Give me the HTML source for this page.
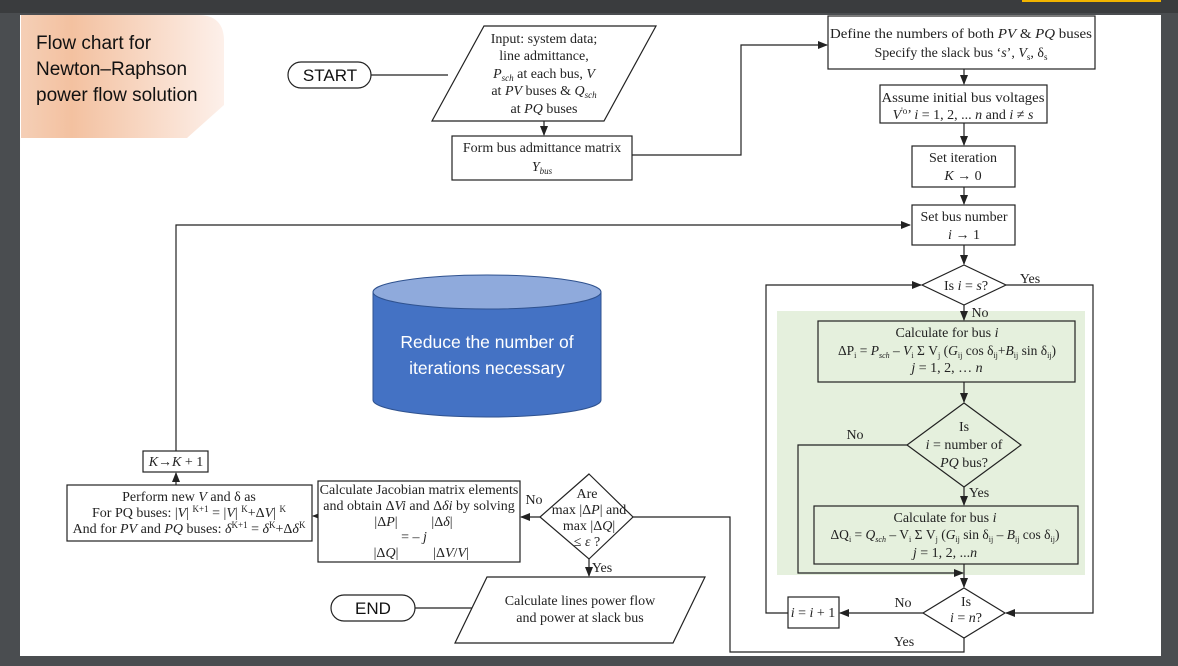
<!DOCTYPE html>
<html><head><meta charset="utf-8"><style>
html,body{margin:0;padding:0;width:1178px;height:666px;overflow:hidden;background:#4a4d50}
svg{display:block}
.t{font-family:"Liberation Serif",serif;font-size:14px;fill:#222}
.s{font-family:"Liberation Sans",sans-serif}
</style></head><body>
<svg width="1178" height="666" viewBox="0 0 1178 666" xmlns="http://www.w3.org/2000/svg">
<defs>
<linearGradient id="g" x1="0" x2="1" y1="0" y2="0">
<stop offset="0" stop-color="#f5cfb6"/><stop offset="0.25" stop-color="#f3c1a0"/><stop offset="1" stop-color="#fdf0ea"/></linearGradient>
<marker id="a" markerWidth="10" markerHeight="8" refX="9" refY="4" orient="auto" markerUnits="userSpaceOnUse"><path d="M0,0 L10,4 L0,8 z" fill="#222"/></marker>
</defs>
<rect x="0" y="0" width="1178" height="666" fill="#4a4d50"/>
<rect x="0" y="0" width="1178" height="13" fill="#3a3c3e"/>
<rect x="1022" y="0" width="139" height="2" fill="#f2b400"/>
<rect x="20" y="15" width="1141" height="641" fill="#fff"/>
<path d="M21,15 H198 Q224,15 224,41 V105 L187,138 H21 Z" fill="url(#g)"/>
<g class="s" font-size="19" fill="#111">
<text x="36" y="49">Flow chart for</text>
<text x="36" y="75">Newton–Raphson</text>
<text x="36" y="101">power flow solution</text>
</g>
<path d="M373,292 V400 A114,17 0 0 0 601,400 V292 Z" fill="#4472c4" stroke="#2f528f" stroke-width="1"/>
<ellipse cx="487" cy="292" rx="114" ry="17" fill="#8faadc" stroke="#2f528f" stroke-width="1"/>
<g class="s" font-size="17.5" fill="#fff" text-anchor="middle">
<text x="487" y="348">Reduce the number of</text>
<text x="487" y="374">iterations necessary</text>
</g>
<rect x="777" y="311" width="308" height="264" fill="#e5f0dd"/>
<g stroke="#222" stroke-width="1.2" fill="none">
<rect x="288" y="62" width="83" height="26" rx="13" fill="#fff"/>
<line x1="371" y1="75" x2="448" y2="75"/>
<path d="M484,26 H656 L604,121 H432 Z" fill="#fff"/>
<line x1="544" y1="121" x2="544" y2="135" marker-end="url(#a)"/>
<rect x="452" y="136" width="180" height="44" fill="#fff"/>
<path d="M632,155 H741 V45 H827" marker-end="url(#a)"/>
<rect x="828" y="16" width="267" height="53" fill="#fff"/>
<line x1="964" y1="69" x2="964" y2="84" marker-end="url(#a)"/>
<rect x="880" y="85" width="167" height="38" fill="#fff"/>
<line x1="964" y1="123" x2="964" y2="145" marker-end="url(#a)"/>
<rect x="912" y="146" width="103" height="41" fill="#fff"/>
<line x1="964" y1="187" x2="964" y2="204" marker-end="url(#a)"/>
<rect x="912" y="205" width="103" height="40" fill="#fff"/>
<line x1="964" y1="245" x2="964" y2="264" marker-end="url(#a)"/>
<path d="M964,265 L1006,285 L964,305 L922,285 Z" fill="#fff"/>
<path d="M1006,285 H1093 V613 H1006" marker-end="url(#a)"/>
<path d="M788,613 H766 V285 H921" marker-end="url(#a)"/>
<line x1="964" y1="305" x2="964" y2="320" marker-end="url(#a)"/>
<rect x="818" y="321" width="257" height="61"/>
<line x1="964" y1="382" x2="964" y2="402" marker-end="url(#a)"/>
<path d="M964,403 L1021,445 L964,487 L907,445 Z"/>
<path d="M907,445 H798 V573 H963" marker-end="url(#a)"/>
<line x1="964" y1="487" x2="964" y2="505" marker-end="url(#a)"/>
<rect x="814" y="506" width="264" height="58"/>
<line x1="964" y1="564" x2="964" y2="587" marker-end="url(#a)"/>
<path d="M964,588 L1005,613 L964,638 L923,613 Z" fill="#fff"/>
<line x1="923" y1="613" x2="840" y2="613" marker-end="url(#a)"/>
<rect x="788" y="597" width="51" height="31" fill="#fff"/>
<path d="M964,638 V652 H730 V517 H633"/>
<path d="M176,452 V225 H910" marker-end="url(#a)"/>
<rect x="143" y="451" width="65" height="21" fill="#fff"/>
<line x1="176" y1="485" x2="176" y2="473" marker-end="url(#a)"/>
<rect x="67" y="485" width="245" height="56" fill="#fff"/>
<line x1="318" y1="516" x2="313" y2="516" marker-end="url(#a)"/>
<rect x="318" y="481" width="202" height="81" fill="#fff"/>
<line x1="540" y1="517" x2="521" y2="517" marker-end="url(#a)"/>
<path d="M589,474 L633,517 L589,559 L540,517 Z" fill="#fff"/>
<line x1="589" y1="559" x2="589" y2="576" marker-end="url(#a)"/>
<path d="M487,577 H705 L673,643 H455 Z" fill="#fff"/>
<line x1="415" y1="608" x2="472" y2="608"/>
<rect x="331" y="595" width="84" height="26" rx="13" fill="#fff"/>
</g>
<g class="s" font-size="17" fill="#111" text-anchor="middle">
<text x="330" y="81">START</text>
<text x="373" y="614">END</text>
</g>
<g class="t" text-anchor="middle">
<text x="544" y="43">Input: system data;</text>
<text x="544" y="60">line admittance,</text>
<text x="544" y="78"><tspan font-style="italic">P</tspan><tspan font-size="9" font-style="italic" dy="3">sch</tspan><tspan dy="-3"> at each bus, </tspan><tspan font-style="italic">V</tspan></text>
<text x="544" y="95">at <tspan font-style="italic">PV</tspan> buses &amp; <tspan font-style="italic">Q</tspan><tspan font-size="9" font-style="italic" dy="3">sch</tspan></text>
<text x="544" y="113">at <tspan font-style="italic">PQ</tspan> buses</text>
<text x="542" y="152">Form bus admittance matrix</text>
<text x="542" y="171" font-style="italic">Y<tspan font-size="9" dy="3">bus</tspan></text>
<text x="961" y="38" textLength="262" lengthAdjust="spacingAndGlyphs">Define the numbers of both <tspan font-style="italic">PV</tspan> &amp; <tspan font-style="italic">PQ</tspan> buses</text>
<text x="961" y="57">Specify the slack bus ‘<tspan font-style="italic">s</tspan>’, <tspan font-style="italic">V</tspan><tspan font-size="9" dy="3">s</tspan><tspan dy="-3">, δ</tspan><tspan font-size="9" dy="3">s</tspan></text>
<text x="963" y="102" textLength="163" lengthAdjust="spacingAndGlyphs">Assume initial bus voltages</text>
<text x="963" y="119"><tspan font-style="italic">V</tspan><tspan font-size="9" dy="-5">'o</tspan><tspan dy="5">’ </tspan><tspan font-style="italic">i</tspan> = 1, 2, ... <tspan font-style="italic">n</tspan> and <tspan font-style="italic">i</tspan> ≠ <tspan font-style="italic">s</tspan></text>
<text x="963" y="162">Set iteration</text>
<text x="963" y="180"><tspan font-style="italic">K</tspan> → 0</text>
<text x="964" y="221">Set bus number</text>
<text x="964" y="239"><tspan font-style="italic">i</tspan>  → 1</text>
<text x="966" y="290">Is <tspan font-style="italic">i</tspan> = <tspan font-style="italic">s</tspan>?</text>
<text x="1030" y="283">Yes</text>
<text x="980" y="317">No</text>
<text x="947" y="337">Calculate for bus <tspan font-style="italic">i</tspan></text>
<text x="947" y="355" font-size="13.5">ΔP<tspan font-size="8" dy="3">i</tspan><tspan dy="-3"> = </tspan><tspan font-style="italic">P</tspan><tspan font-size="8" font-style="italic" dy="3">sch</tspan><tspan dy="-3"> – </tspan><tspan font-style="italic">V</tspan><tspan font-size="8" dy="3">i</tspan><tspan dy="-3"> Σ V</tspan><tspan font-size="8" dy="3">j</tspan><tspan dy="-3"> (</tspan><tspan font-style="italic">G</tspan><tspan font-size="8" dy="3">ij</tspan><tspan dy="-3"> cos δ</tspan><tspan font-size="8" dy="3">ij</tspan><tspan dy="-3">+</tspan><tspan font-style="italic">B</tspan><tspan font-size="8" dy="3">ij</tspan><tspan dy="-3"> sin δ</tspan><tspan font-size="8" dy="3">ij</tspan><tspan dy="-3">)</tspan></text>
<text x="947" y="372"><tspan font-style="italic">j</tspan> = 1, 2, … <tspan font-style="italic">n</tspan></text>
<text x="964" y="431">Is</text>
<text x="964" y="449"><tspan font-style="italic">i</tspan> = number of</text>
<text x="964" y="467"><tspan font-style="italic">PQ</tspan> bus?</text>
<text x="855" y="439">No</text>
<text x="979" y="497">Yes</text>
<text x="945" y="522">Calculate for bus <tspan font-style="italic">i</tspan></text>
<text x="945" y="539" font-size="13.5">ΔQ<tspan font-size="8" dy="3">i</tspan><tspan dy="-3"> = </tspan><tspan font-style="italic">Q</tspan><tspan font-size="8" font-style="italic" dy="3">sch</tspan><tspan dy="-3"> – V</tspan><tspan font-size="8" dy="3">i</tspan><tspan dy="-3"> Σ V</tspan><tspan font-size="8" dy="3">j</tspan><tspan dy="-3"> (</tspan><tspan font-style="italic">G</tspan><tspan font-size="8" dy="3">ij</tspan><tspan dy="-3"> sin δ</tspan><tspan font-size="8" dy="3">ij</tspan><tspan dy="-3"> – </tspan><tspan font-style="italic">B</tspan><tspan font-size="8" dy="3">ij</tspan><tspan dy="-3"> cos δ</tspan><tspan font-size="8" dy="3">ij</tspan><tspan dy="-3">)</tspan></text>
<text x="945" y="557"><tspan font-style="italic">j</tspan> = 1, 2, ...<tspan font-style="italic">n</tspan></text>
<text x="966" y="606">Is</text>
<text x="966" y="622"><tspan font-style="italic">i</tspan> = <tspan font-style="italic">n</tspan>?</text>
<text x="903" y="607">No</text>
<text x="904" y="646">Yes</text>
<text x="813" y="617"><tspan font-style="italic">i</tspan> = <tspan font-style="italic">i</tspan> + 1</text>
<text x="176" y="466"><tspan font-style="italic">K</tspan>→<tspan font-style="italic">K</tspan> + 1</text>
<text x="189" y="501">Perform new <tspan font-style="italic">V</tspan> and δ as</text>
<text x="189" y="517">For PQ buses: |<tspan font-style="italic">V</tspan>| <tspan font-size="9" dy="-5">K+1</tspan><tspan dy="5"> = |</tspan><tspan font-style="italic">V</tspan>| <tspan font-size="9" dy="-5">K</tspan><tspan dy="5">+Δ</tspan><tspan font-style="italic">V</tspan>| <tspan font-size="9" dy="-5">K</tspan></text>
<text x="189" y="533">And for <tspan font-style="italic">PV</tspan> and <tspan font-style="italic">PQ</tspan> buses: <tspan font-style="italic">δ</tspan><tspan font-size="9" dy="-5">K+1</tspan><tspan dy="5"> = </tspan><tspan font-style="italic">δ</tspan><tspan font-size="9" dy="-5">K</tspan><tspan dy="5">+Δ</tspan><tspan font-style="italic">δ</tspan><tspan font-size="9" dy="-5">K</tspan></text>
<text x="419" y="494">Calculate Jacobian matrix elements</text>
<text x="419" y="510">and obtain Δ<tspan font-style="italic">Vi</tspan> and Δ<tspan font-style="italic">δi</tspan> by solving</text>
<text x="386" y="526">|Δ<tspan font-style="italic">P</tspan>|</text>
<text x="442" y="526">|Δ<tspan font-style="italic">δ</tspan>|</text>
<text x="414" y="541">= – <tspan font-style="italic">j</tspan></text>
<text x="386" y="557">|Δ<tspan font-style="italic">Q</tspan>|</text>
<text x="451" y="557">|Δ<tspan font-style="italic">V</tspan>/<tspan font-style="italic">V</tspan>|</text>
<text x="534" y="504">No</text>
<text x="587" y="498">Are</text>
<text x="589" y="514">max |Δ<tspan font-style="italic">P</tspan>| and</text>
<text x="589" y="530">max |Δ<tspan font-style="italic">Q</tspan>|</text>
<text x="587" y="546">≤ <tspan font-style="italic">ε</tspan> ?</text>
<text x="602" y="572">Yes</text>
<text x="580" y="605">Calculate lines power flow</text>
<text x="580" y="622">and power at slack bus</text>
</g>
</svg>
</body></html>
